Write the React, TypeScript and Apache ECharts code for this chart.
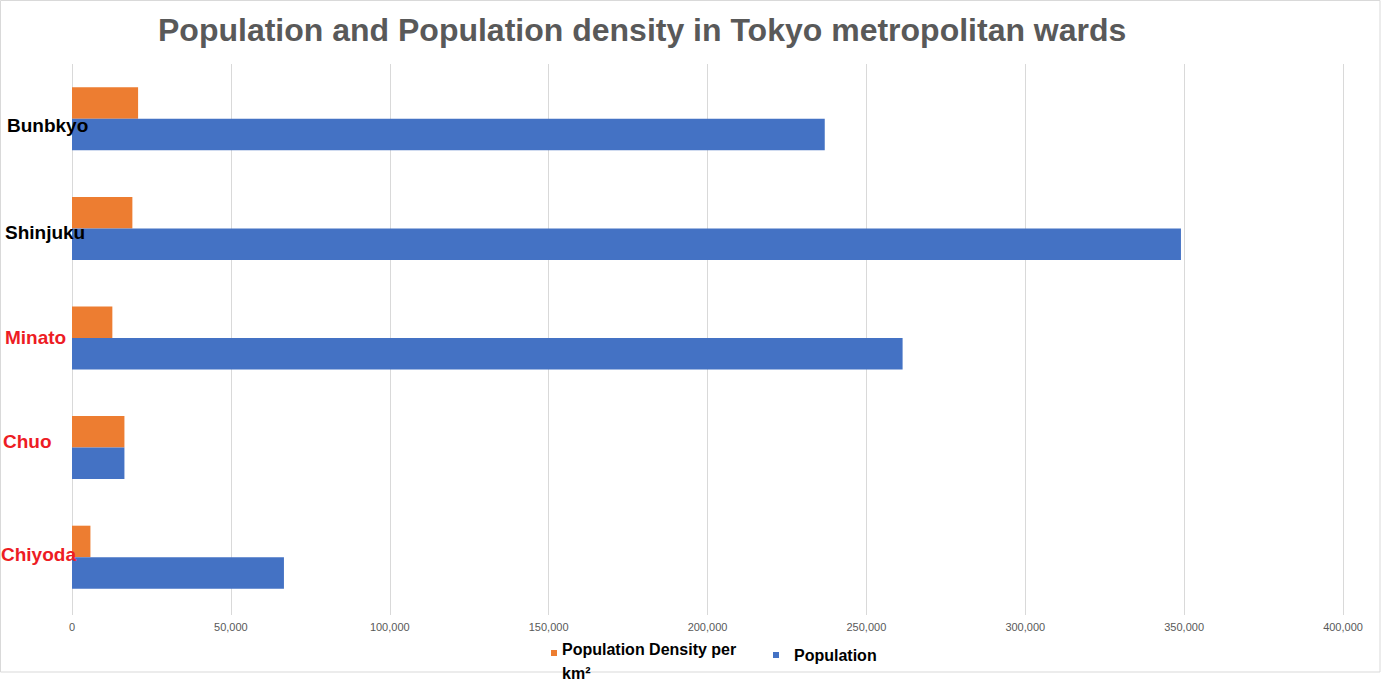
import React, { useEffect, useRef } from "react";
import * as echarts from "echarts";

// Wards, listed bottom to top on the category axis
const wards = ["Chiyoda", "Chuo", "Minato", "Shinjuku", "Bunbkyo"];
const population = [66700, 16500, 261400, 349000, 236900];
const densityPerKm2 = [5800, 16500, 12700, 19000, 20800];
const redWards = ["Minato", "Chuo", "Chiyoda"];

const xMin = 0;
const xMax = 400000;
const xStep = 50000;

const DENSITY_NAME = "Population Density per km²";
const POPULATION_NAME = "Population";

const FONT = "'Liberation Sans', Arial, sans-serif";

// Small per-label nudges [dx, dy] for the ward names (in label order)
const labelNudge: [number, number][] = [
  [0, -3],
  [2, -6],
  [4, -1],
  [4, 4],
  [6, 7],
];

function wardRich() {
  const rich: Record<string, any> = {};
  wards.forEach((w, i) => {
    const [dx, dy] = labelNudge[i];
    rich["w" + i] = {
      fontSize: 19,
      fontWeight: "bold",
      fontFamily: FONT,
      color: redWards.includes(w) ? "#ED1C24" : "#000000",
      padding: [dy > 0 ? dy * 2 : 0, 0, dy < 0 ? -dy * 2 : 0, dx],
    };
  });
  return rich;
}

export default function App() {
  const ref = useRef<HTMLDivElement>(null);

  useEffect(() => {
    if (!ref.current) return;
    const chart = echarts.init(ref.current, undefined, { renderer: "svg" });
    chart.setOption({
      animation: false,
      backgroundColor: "#ffffff",
      textStyle: { fontFamily: FONT },
      title: {
        text: "Population and Population density in Tokyo metropolitan wards",
        left: 158,
        top: 14,
        padding: 0,
        textStyle: {
          fontFamily: FONT,
          fontSize: 32,
          fontWeight: "bold",
          color: "#595959",
        },
      },
      graphic: [
        {
          type: "rect",
          silent: true,
          z: -10,
          shape: { x: 0.5, y: 0.5, width: 1379.5, height: 671.5 },
          style: { fill: "none", stroke: "#d9d9d9", lineWidth: 1 },
        },
      ],
      legend: [
        {
          data: [DENSITY_NAME],
          left: 551,
          top: 637,
          padding: 0,
          itemWidth: 6,
          itemHeight: 22,
          icon: "path://M0 0h6v6h-6z M6 22",
          selectedMode: false,
          formatter: () => "Population Density per\nkm²",
          textStyle: {
            fontFamily: FONT,
            fontSize: 16,
            fontWeight: "bold",
            color: "#000000",
            lineHeight: 24,
          },
        },
        {
          data: [POPULATION_NAME],
          left: 773,
          top: 647,
          padding: 0,
          itemWidth: 16,
          itemHeight: 6,
          icon: "path://M0 0h6v6h-6z M16 6",
          selectedMode: false,
          textStyle: {
            fontFamily: FONT,
            fontSize: 16,
            fontWeight: "bold",
            color: "#000000",
          },
        },
      ],
      grid: {
        left: 72,
        right: 38,
        top: 64,
        height: 548,
        containLabel: false,
        outerBoundsMode: "none",
      },
      xAxis: {
        type: "value",
        min: xMin,
        max: xMax,
        interval: xStep,
        axisLine: { show: false },
        axisTick: { show: true, length: 3, lineStyle: { color: "#d9d9d9" } },
        splitLine: { show: true, lineStyle: { color: "#d9d9d9", width: 1 } },
        axisLabel: {
          margin: 9,
          fontSize: 11,
          color: "#595959",
          fontFamily: FONT,
          formatter: (v: number) => v.toLocaleString("en-US"),
        },
      },
      yAxis: {
        type: "category",
        data: wards,
        z: 5,
        axisLine: { show: false },
        axisTick: { show: false },
        splitLine: { show: false },
        axisLabel: {
          margin: 71,
          align: "left",
          fontSize: 19,
          fontWeight: "bold",
          fontFamily: FONT,
          formatter: (value: string, index: number) => `{w${index}|${value}}`,
          rich: wardRich(),
        },
      },
      series: [
        {
          name: DENSITY_NAME,
          type: "bar",
          data: densityPerKm2,
          barGap: "0%",
          barCategoryGap: "42.5%",
          itemStyle: { color: "#ED7D31" },
        },
        {
          name: POPULATION_NAME,
          type: "bar",
          data: population,
          barGap: "0%",
          barCategoryGap: "42.5%",
          itemStyle: { color: "#4472C4" },
        },
      ],
    });
    return () => chart.dispose();
  }, []);

  return (
    <div
      ref={ref}
      style={{ position: "absolute", left: 0, top: 0, width: 1381, height: 687, background: "#fff" }}
    />
  );
}
